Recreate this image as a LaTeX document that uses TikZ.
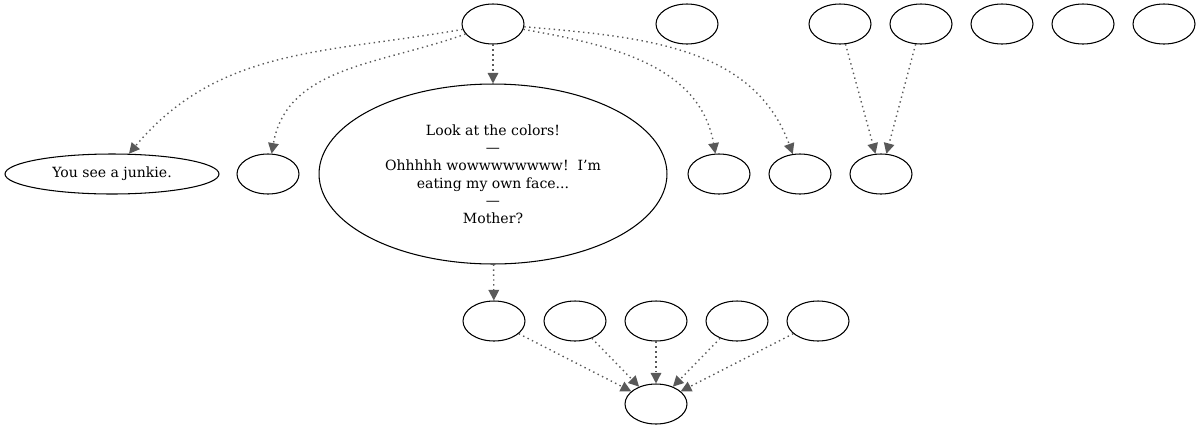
\documentclass[tikz,border=0pt]{standalone}
\usepackage{fontspec}
\setmainfont{DejaVu Serif}
\usetikzlibrary{shapes.geometric,arrows.meta}
\begin{document}
\begin{tikzpicture}[x=0.02cm,y=-0.02cm,
  e/.style={ellipse,draw,line width=0.6pt,minimum width=1.24cm,minimum height=0.8cm,inner sep=0pt,font=\fontsize{8}{10}\selectfont,align=center},
  ed/.style={draw=black!65,dotted,line width=0.8pt,-{Triangle[length=6pt,width=6pt]}}]
\useasboundingbox (0,0) rectangle (1200,430);
\node[e] (A) at (493,24) {};
\node[e] (B) at (687,24) {};
\node[e] (C) at (840,24) {};
\node[e] (D) at (921,24) {};
\node[e] (E) at (1002,24) {};
\node[e] (F) at (1083,24) {};
\node[e] (G) at (1164,24) {};
\node[e,minimum width=4.28cm] (J) at (112,174) {You see a junkie.};
\node[e] (N2) at (268,174) {};
\node[e,minimum width=6.96cm,minimum height=3.6cm] (Big) at (493,174) {Look at the colors!\\---\\Ohhhhh wowwwwwwww!\ \ I'm\\eating my own face...\\---\\Mother?};
\node[e] (N4) at (719,174) {};
\node[e] (N5) at (800,174) {};
\node[e] (N6) at (881,174) {};
\node[e] (R1) at (494,321) {};
\node[e] (R2) at (575,321) {};
\node[e] (R3) at (656,321) {};
\node[e] (R4) at (737,321) {};
\node[e] (R5) at (818,321) {};
\node[e] (Z) at (656,404) {};
\draw[ed] (A) to[out=190,in=50] (J);
\draw[ed] (A) to[out=200,in=80] (N2);
\draw[ed] (A) -- (Big);
\draw[ed] (A) to[out=-10,in=100] (N4);
\draw[ed] (A) to[out=-5,in=110] (N5);
\draw[ed] (C) -- (N6);
\draw[ed] (D) -- (N6);
\draw[ed] (Big) -- (R1);
\draw[ed] (R1) -- (Z);
\draw[ed] (R2) -- (Z);
\draw[ed] (R3) -- (Z);
\draw[ed] (R4) -- (Z);
\draw[ed] (R5) -- (Z);
\end{tikzpicture}
\end{document}
